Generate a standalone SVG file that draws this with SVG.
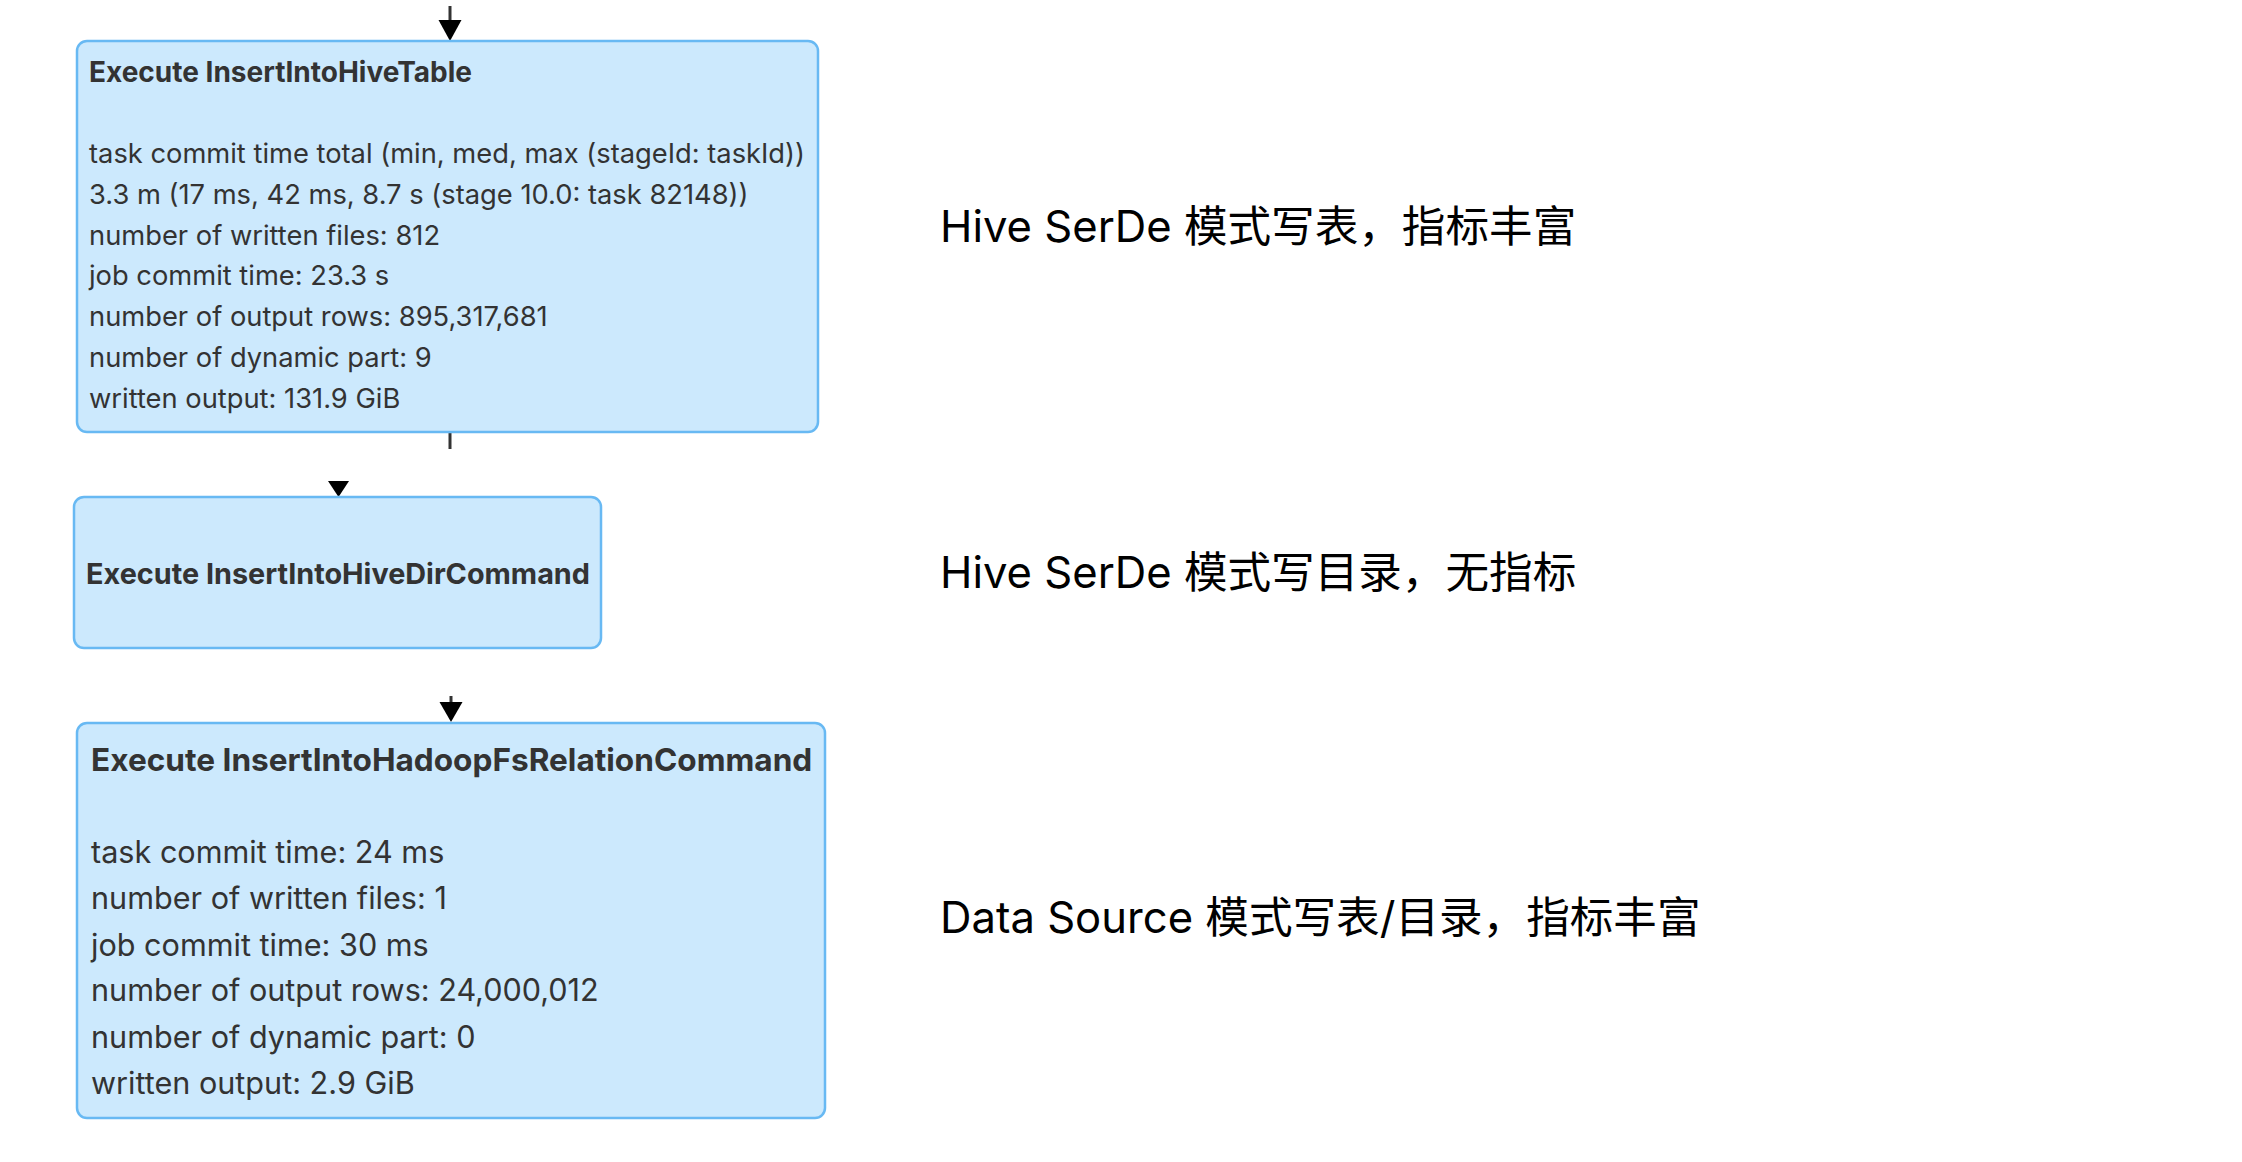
<svg xmlns="http://www.w3.org/2000/svg" width="2242" height="1162" viewBox="0 0 2242 1162">
<style>
.node rect{fill:#cce9fd;stroke:#68b9f3;stroke-width:2.5}
.t{font-family:Inter,"Noto Sans",sans-serif;fill:#333}
.b{font-weight:bold}
.s1{font-size:27.3px}
.s3{font-size:30.6px}
.note{font-family:Inter,"Noto Sans CJK SC",sans-serif;font-size:43.6px;fill:#000}
.edge{stroke:#333;stroke-width:3;fill:none}
</style>
<rect width="2242" height="1162" fill="#fff"/>
<g id="connectors">
<line class="edge" x1="450" y1="6" x2="450" y2="22"/>
<path d="M438.5 20 L461.5 20 L450 41 Z" fill="#000"/>
<line class="edge" x1="450" y1="432" x2="450" y2="449"/>
<path d="M328 481 L349 481 L338.5 497 Z" fill="#000"/>
<line class="edge" x1="451" y1="696" x2="451" y2="704"/>
<path d="M439.5 702 L462.5 702 L451 722 Z" fill="#000"/>
</g>
<g id="node1" class="node">
<rect x="77" y="41" width="741" height="391" rx="10"/>
<text class="t b" x="89" y="82" font-size="28">Execute InsertIntoHiveTable</text>
<text class="t s1" x="89" y="163">task commit time total (min, med, max (stageId: taskId))</text>
<text class="t s1" x="89" y="204">3.3 m (17 ms, 42 ms, 8.7 s (stage 10.0: task 82148))</text>
<text class="t s1" x="89" y="245">number of written files: 812</text>
<text class="t s1" x="89" y="285">job commit time: 23.3 s</text>
<text class="t s1" x="89" y="326">number of output rows: 895,317,681</text>
<text class="t s1" x="89" y="367">number of dynamic part: 9</text>
<text class="t s1" x="89" y="408">written output: 131.9 GiB</text>
</g>
<g id="node2" class="node">
<rect x="74" y="497" width="527" height="151" rx="10"/>
<text class="t b" x="338" y="584" font-size="28.8" text-anchor="middle">Execute InsertIntoHiveDirCommand</text>
</g>
<g id="node3" class="node">
<rect x="77" y="723" width="748" height="395" rx="10"/>
<text class="t b" x="91" y="771" font-size="31.6">Execute InsertIntoHadoopFsRelationCommand</text>
<text class="t s3" x="91" y="863">task commit time: 24 ms</text>
<text class="t s3" x="91" y="909">number of written files: 1</text>
<text class="t s3" x="91" y="956">job commit time: 30 ms</text>
<text class="t s3" x="91" y="1001">number of output rows: 24,000,012</text>
<text class="t s3" x="91" y="1048">number of dynamic part: 0</text>
<text class="t s3" x="91" y="1094">written output: 2.9 GiB</text>
</g>
<g id="notes">
<text class="note" x="940" y="242">Hive SerDe 模式写表，指标丰富</text>
<text class="note" x="940" y="588">Hive SerDe 模式写目录，无指标</text>
<text class="note" x="940" y="933">Data Source 模式写表/目录，指标丰富</text>
</g>
</svg>
